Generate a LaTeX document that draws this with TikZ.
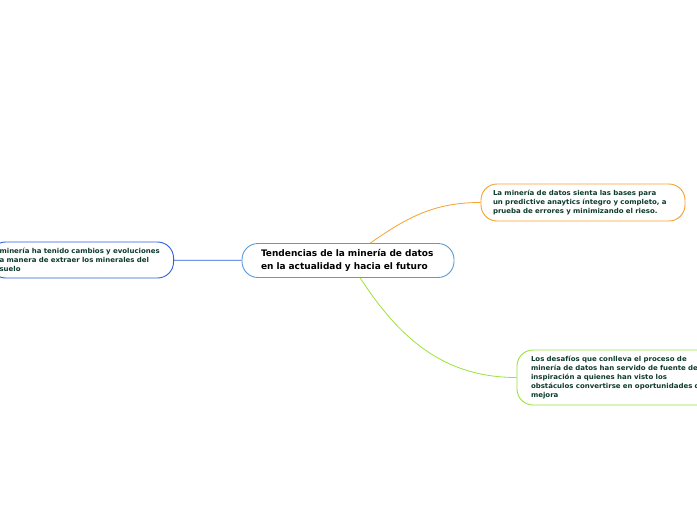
\documentclass[tikz,border=0pt]{standalone}
\usepackage{fontspec}
\setmainfont{DejaVu Sans}
\newfontfamily\subfont[FakeStretch=1.03]{DejaVu Sans}
\definecolor{txtgreen}{HTML}{0E3B2E}
\definecolor{ctrblue}{HTML}{5B9BD5}
\definecolor{lftblue}{HTML}{2A5FE0}
\definecolor{brorange}{HTML}{F7A12E}
\definecolor{brgreen}{HTML}{9BE33A}
\begin{document}
\begin{tikzpicture}[x=1pt, y=-1pt,
	topic/.style={draw, rounded corners=16pt, align=left, inner ysep=0pt, line width=0.9pt, fill=white},
	sub/.style={draw, rounded corners=16pt, align=left, inner ysep=0pt, line width=0.9pt, fill=white,
		text=txtgreen, font=\subfont\bfseries\fontsize{6.8}{8.9}\selectfont}]
		\useasboundingbox[fill=white] (0,0) rectangle (697,520);
		\node (ctr)[topic, draw=ctrblue, minimum width=212, minimum height=34, inner xsep=19pt, text width=174pt,
			font=\bfseries\fontsize{9}{13}\selectfont] at(348,260.5)
			{Tendencias de la minería de datos\\en la actualidad y hacia el futuro};
		\node (lft)[sub, draw=lftblue, minimum width=184, minimum height=36, inner xsep=10pt, text width=164pt, anchor=east] at(174,260)
			{minería ha tenido cambios y evoluciones\\a manera de extraer los minerales del\\suelo};
		\node (top)[sub, draw=brorange, minimum width=204, minimum height=37, inner xsep=12pt, text width=180pt] at(583,202.5)
			{La minería de datos sienta las bases para\\un predictive anaytics íntegro y completo, a\\prueba de errores y minimizando el rieso.};
		\node (bot)[sub, draw=brgreen, minimum width=228, minimum height=55, inner xsep=14pt, text width=200pt] at(631,377.5)
			{Los desafíos que conlleva el proceso de\\minería de datos han servido de fuente de\\inspiración a quienes han visto los\\obstáculos convertirse en oportunidades de\\mejora};
		\draw [lftblue, line width=0.8pt](lft)--(ctr);
		\draw [brorange, line width=0.8pt](ctr.38) to[out=35, in=180] (top.west);
		\draw [brgreen, line width=0.8pt](ctr.-55) to[out=-57, in=180] (bot.west);
	\end{tikzpicture}
\end{document}
